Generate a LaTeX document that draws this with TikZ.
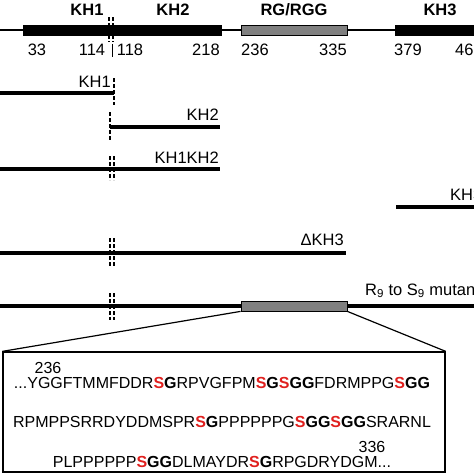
\documentclass[tikz,border=0pt]{standalone}
\usepackage{fontspec}
\setmainfont{Liberation Sans}
\usetikzlibrary{positioning}
\definecolor{rggray}{HTML}{808080}
\definecolor{serred}{HTML}{E0201E}
\newcommand{\rS}{\textcolor{serred}{\textbf{S}}}
\newcommand{\bG}{\textbf{G}}

\begin{document}
\begin{tikzpicture}[x=1pt,y=-1pt,
  font=\fontsize{16.5}{19}\selectfont,
  dombox/.style={rectangle,draw=black,line width=0.8pt,minimum height=10pt,inner sep=0pt},
  kh/.style={dombox,fill=black},
  rgg/.style={dombox,fill=rggray},
  construct/.style={line width=3.6pt},
  brk/.style={dash pattern=on 4pt off 2pt,line width=1.1pt},
  lbl/.style={anchor=base east,inner sep=0pt},
  seq/.style={anchor=base,inner sep=0pt,font=\fontsize{16}{18}\selectfont}]
  \useasboundingbox (0,0) rectangle (474,474);
  % full-length protein
  \coordinate (axL) at (0,30);
  \coordinate (axR) at (474,30);
  \draw[line width=1.2pt] (axL) -- (axR);
  \node[kh,minimum width=198pt] (KH12) at (122,30) {};
  \node[rgg,minimum width=106pt] (RGG) at (294,30) {};
  \node[kh,minimum width=105pt] (KH3) at (447.5,30) {};
  \foreach \x in {109,113} \draw[brk] (\x,17) -- (\x,42);
  \draw[line width=0.8pt] (112,44) -- (112,57);
  \foreach \t/\x in {KH1/87,KH2/173,RG\slash RGG/294,KH3/440}
    \node[anchor=base,font=\fontsize{16.5}{19}\selectfont\bfseries] at (\x,15) {\t};
  \foreach \n/\x in {33/37,114/92,118/130,218/206,236/255,335/333,379/408}
    \node[anchor=base] at (\x,55) {\n};
  \node[anchor=base west,inner sep=0pt] at (455,55) {463};
  % deletion constructs
  \draw[construct] (0,93) -- (114,93);
  \draw[brk] (114,78) -- (114,105);
  \node[lbl] at (111,87) {KH1};
  \draw[construct] (110,127) -- (220,127);
  \draw[brk] (110,112) -- (110,140);
  \node[lbl] at (219,120) {KH2};
  \draw[construct] (0,169) -- (220,169);
  \foreach \x in {110,114} \draw[brk] (\x,156) -- (\x,180);
  \node[lbl] at (219,163) {KH1KH2};
  \draw[construct] (396,207) -- (474,207);
  \node[anchor=base west,inner sep=0pt] at (450,200) {KH3};
  \draw[construct] (0,253) -- (346,253);
  \foreach \x in {110,114} \draw[brk] (\x,238) -- (\x,267);
  \node[lbl] at (344,245) {ΔKH3};
  % R to S mutant
  \draw[construct] (0,306) -- (474,306);
  \node[rgg,minimum width=106pt] (mut) at (294,306) {};
  \foreach \x in {110,114} \draw[brk] (\x,293) -- (\x,320);
  \node[anchor=base west,inner sep=0pt] at (365,295) {R\textsubscript{9} to S\textsubscript{9} mutant};
  % sequence of the RG/RGG region
  \node[draw,line width=1.3pt,minimum width=442pt,minimum height=120pt,inner sep=0pt] (zoom) at (224,412) {};
  \draw[line width=1.2pt] (mut.south west) -- (zoom.north west);
  \draw[line width=1.2pt] (mut.south east) -- (zoom.north east);
  \node[seq] at (48,373) {236};
  \node[seq] at (222,388) {...YGGFTMMFDDR\rS\bG RPVGFPM\rS\bG\rS\bG\bG FDRMPPG\rS\bG\bG};
  \node[seq] at (222,427) {RPMPPSRRDYDDMSPR\rS\bG PPPPPPG\rS\bG\bG\rS\bG\bG SRARNL};
  \node[seq] at (372,452) {336};
  \node[seq] at (222,467) {PLPPPPPP\rS\bG\bG DLMAYDR\rS\bG RPGDRYDGM...};
\end{tikzpicture}
\end{document}
